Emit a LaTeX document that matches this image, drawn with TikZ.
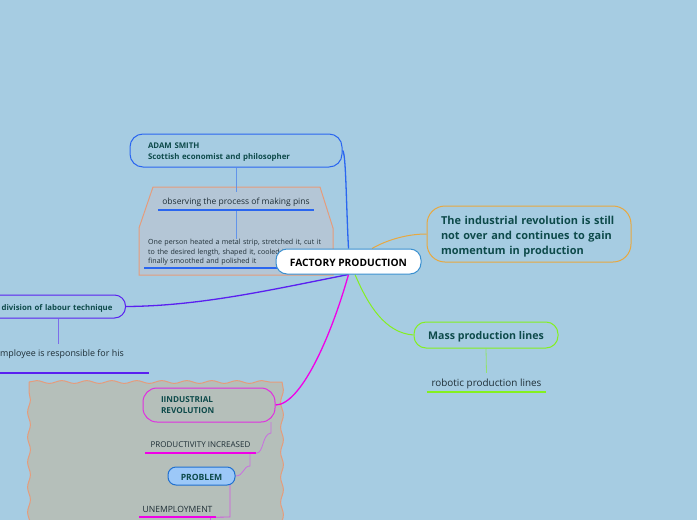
\documentclass[tikz,border=0pt]{standalone}
\usepackage{fontspec}
\setmainfont{Open Sans}
\usepackage{xcolor}
\usetikzlibrary{backgrounds, decorations.pathmorphing}
\definecolor{mapsky}{HTML}{A6CCE2}
\definecolor{topicink}{HTML}{0D4A4A}
\definecolor{noteink}{HTML}{1E2E36}
\definecolor{adamblue}{HTML}{2A66F0}
\definecolor{laborviolet}{HTML}{5A20F0}
\definecolor{revomagenta}{HTML}{E030E0}
\definecolor{linemagenta}{HTML}{F000E8}
\definecolor{masslime}{HTML}{84F020}
\definecolor{gainorange}{HTML}{E8A840}
\definecolor{panelline}{HTML}{E59C7C}
\begin{document}
\begin{tikzpicture}[x=1pt, y=-1pt]
\tikzstyle{topic} = [rectangle, draw, line width=1pt, rounded corners=13pt, inner ysep=0pt, align=left, text=topicink]
\tikzstyle{note} = [rectangle, inner sep=0pt, align=center, text=noteink]
\tikzstyle{drop} = [execute at begin node={\rule{0pt}{#1}}]
\tikzstyle{branch} = [line width=1.3pt]
\tikzstyle{stem} = [line width=0.8pt]
\tikzstyle{rule} = [line width=1.6pt]

\useasboundingbox (0,0) rectangle (697,520);

\begin{pgfonlayer}{background}
\fill [mapsky] (0,0) rectangle (697,520);
\filldraw [draw=panelline, line width=1pt, fill={rgb,255:red,180;green,198;blue,214}] (153,187) -- (320,187) -- (333,228) -- (333,275) -- (139,275) -- (139,228) -- cycle;
\filldraw [draw=panelline, line width=1pt, fill={rgb,255:red,181;green,191;blue,186}, decoration={snake, segment length=25pt, amplitude=1.4pt}] (29,382) decorate {-- (282,382)} decorate {-- (282,545)} -- (29,545) decorate {-- (29,382)};
\end{pgfonlayer}

\node (main) [topic, draw={rgb,255:red,58;green,144;blue,208}, fill=white, rounded corners=11pt, minimum width=145pt, minimum height=25pt, align=center, text=black, drop=10.3pt, font=\fontsize{10.2}{12}\selectfont\bfseries] at (348.5,261.5) {FACTORY PRODUCTION};

\node (adam) [topic, draw=adamblue, inner xsep=18pt, text width=176pt, minimum height=33pt, drop=9.6pt, font=\fontsize{7.85}{11}\selectfont\bfseries] at (236,150.5) {ADAM SMITH\\Scottish economist and philosopher};
\node (pins) [note, minimum width=156pt, minimum height=18pt, drop=9.6pt, font=\fontsize{8.5}{11}\selectfont] at (236,201) {observing the process of making pins};
\begin{pgfonlayer}{background}
\node (pinsteps) [note, text width=190pt, align=left, font=\fontsize{7.1}{9.6}\selectfont, anchor=north west] at (148,239) {One person heated a metal strip, stretched it, cut it\\to the desired length, shaped it, cooled it,\\finally smoothed and polished it};
\end{pgfonlayer}
\coordinate (pinstepsa) at (144,268);
\coordinate (pinstepsb) at (300,268);

\node (labor) [topic, draw=laborviolet, inner xsep=13pt, text width=164pt, minimum height=23pt, align=right, rounded corners=11pt, drop=8.9pt, font=\fontsize{7.8}{10}\selectfont\bfseries, anchor=east] at (126,306.5) {division of labour technique};
\node (duty) [note, font=\fontsize{8.9}{11}\selectfont, anchor=west] at (0,354) {mployee is responsible for his};
\coordinate (dutya) at (0,373);
\coordinate (dutyb) at (149,373);

\node (revo) [topic, draw=revomagenta, inner xsep=18pt, text width=96pt, minimum height=34pt, rounded corners=14pt, font=\fontsize{8.2}{11}\selectfont\bfseries] at (209,405) {IINDUSTRIAL\\REVOLUTION};
\node (output) [note, minimum width=111pt, minimum height=16pt, font=\fontsize{8}{9}\selectfont] at (200.5,445) {PRODUCTIVITY INCREASED};
\node (problem) [topic, draw={rgb,255:red,32;green,112;blue,208}, fill={rgb,255:red,156;green,200;blue,248}, minimum width=67pt, minimum height=18pt, rounded corners=8pt, align=center, drop=8.2pt, font=\fontsize{8.6}{10}\selectfont\bfseries] at (201.5,476) {PROBLEM};
\node (jobs) [note, minimum width=77pt, minimum height=16pt, font=\fontsize{8.6}{9}\selectfont] at (177.5,509) {UNEMPLOYMENT};
\coordinate (jobsdown) at (210,530);

\node (gain) [topic, draw=gainorange, inner xsep=14pt, text width=176pt, minimum height=56pt, rounded corners=18pt, drop=14.4pt, font=\fontsize{10.95}{15}\selectfont\bfseries] at (529,234) {The industrial revolution is still\\not over and continues to gain\\momentum in production};
\node (mass) [topic, draw=masslime, minimum width=144pt, minimum height=26pt, align=center, rounded corners=12pt, drop=12pt, font=\fontsize{10.6}{12}\selectfont\bfseries] at (486,335) {Mass production lines};
\node (robots) [note, minimum width=119pt, minimum height=19pt, drop=10.5pt, font=\fontsize{9.9}{11}\selectfont] at (486.5,382.5) {robotic production lines};

\begin{pgfonlayer}{background}
\draw [branch, adamblue] (adam.east) .. controls (346,152) and (346,200) .. (main.north);
\draw [branch, laborviolet] (labor.east) .. controls (200,306) and (270,290) .. (main.south);
\draw [branch, linemagenta] (revo.east) .. controls (300,405) and (330,340) .. (main.south);
\draw [branch, masslime, line width=1pt] (mass.west) .. controls (385,333) and (368,305) .. (main.south -| 355,0);
\draw [branch, gainorange, line width=1pt] (gain.west) .. controls (405,234) and (385,241) .. (main.north -| 372,0);

\draw [stem, adamblue!55!mapsky] (adam.south) -- (pins.north);
\draw [stem, adamblue!55!mapsky] (pins.south) -- (pins.south |- pinsteps.north);
\draw [stem, laborviolet!55!mapsky] (labor.south -| 58,0) -- (58,344) coordinate (dutytop);
\draw [stem, masslime!60!mapsky] (mass.south) -- (robots.north);
\draw [stem, revomagenta!60!mapsky] (271,422) -- (271,433) .. controls (262,434) and (264,453) .. (output.south east);
\draw [stem, revomagenta!60!mapsky] (250,453) -- (250,466) .. controls (243,466) and (244,476) .. (problem.east);
\draw [stem, revomagenta!75!mapsky] (230,485) -- (230,517) -- (jobs.south east);
\draw [stem, revomagenta!75!mapsky] (jobs.south -| jobsdown) -- (jobsdown);

\draw [rule, adamblue] (pins.south west) -- (pins.south east);
\draw [rule, adamblue] (pinstepsa) -- (pinstepsb);
\draw [rule, laborviolet] (dutya) -- (dutyb);
\draw [rule, linemagenta] (output.south west) -- (output.south east);
\draw [rule, linemagenta] (jobs.south west) -- (jobs.south east);
\draw [rule, masslime] (robots.south west) -- (robots.south east);
\end{pgfonlayer}

\end{tikzpicture}
\end{document}
